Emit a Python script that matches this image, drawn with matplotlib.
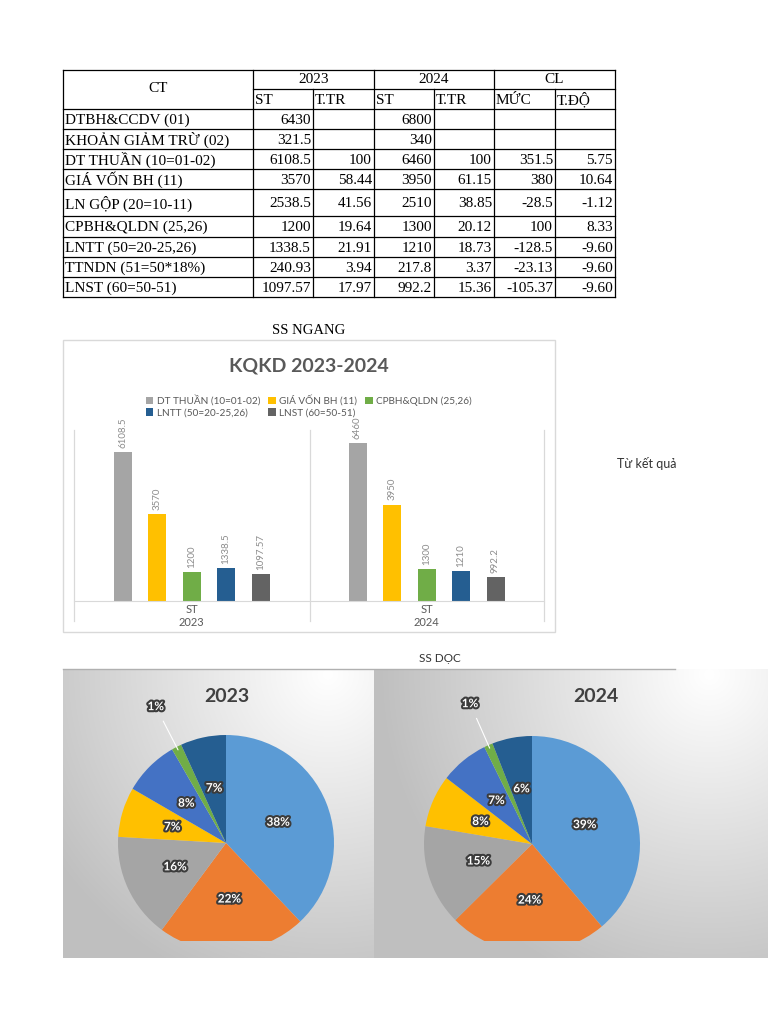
import numpy as np
import matplotlib.pyplot as plt
import matplotlib.patheffects as pe
from matplotlib.patches import Rectangle

# ---- data (bảng KQKD) ----
rows = ["DTBH&CCDV (01)", "KHOẢN GIẢM TRỪ (02)", "DT THUẦN (10=01-02)", "GIÁ VỐN BH (11)",
        "LN GỘP (20=10-11)", "CPBH&QLDN (25,26)", "LNTT (50=20-25,26)",
        "TTNDN (51=50*18%)", "LNST (60=50-51)"]
st_2023 = [6430, 321.5, 6108.5, 3570, 2538.5, 1200, 1338.5, 240.93, 1097.57]
ttr_2023 = [None, None, 100, 58.44, 41.56, 19.64, 21.91, 3.94, 17.97]
st_2024 = [6800, 340, 6460, 3950, 2510, 1300, 1210, 217.8, 992.2]
ttr_2024 = [None, None, 100, 61.15, 38.85, 20.12, 18.73, 3.37, 15.36]
cl_muc = [None, None, 351.5, 380, -28.5, 100, -128.5, -23.13, -105.37]
cl_tdo = [None, None, 5.75, 10.64, -1.12, 8.33, -9.60, -9.60, -9.60]

years = ["2023", "2024"]
bar_rows = [2, 3, 5, 6, 8]          # DT THUẦN, GIÁ VỐN, CPBH, LNTT, LNST
bar_colors = ["#A5A5A5", "#FFC000", "#70AD47", "#255E91", "#636363"]
pie_rows = [2, 3, 4, 5, 6, 7, 8]
pie_colors = ["#5B9BD5", "#ED7D31", "#A5A5A5", "#FFC000", "#4472C4", "#70AD47", "#255E91"]

W, H = 768, 1024
fig = plt.figure(figsize=(W / 100, H / 100), dpi=100)
serif = ["Liberation Serif", "DejaVu Serif"]
sans = ["Lato", "Noto Sans", "DejaVu Sans"]


def box(x0, y0, x1, y1):
    return [x0 / W, 1 - y1 / H, (x1 - x0) / W, (y1 - y0) / H]


page = fig.add_axes([0, 0, 1, 1])
page.set_xlim(0, W)
page.set_ylim(H, 0)
page.axis("off")

# ---- table ----
cols = [63, 253, 313, 374, 434, 494, 555, 615]
ys = [70, 89, 109, 129, 149, 169, 189, 216, 237, 257, 277, 297]
lc = dict(color="black", lw=0.9)
page.plot([cols[0], cols[-1]], [ys[0]] * 2, **lc)
page.plot([cols[1], cols[-1]], [ys[1]] * 2, **lc)
for y in ys[2:]:
    page.plot([cols[0], cols[-1]], [y] * 2, **lc)
for x in [cols[0], cols[1], cols[3], cols[5], cols[7]]:
    page.plot([x, x], [ys[0], ys[-1]], **lc)
for x in [cols[2], cols[4], cols[6]]:
    page.plot([x, x], [ys[1], ys[-1]], **lc)

tf = dict(family=serif, fontsize=11, color="black", va="center")
page.text((cols[0] + cols[1]) / 2, ys[1], "CT", ha="center", **tf)
for i, g in enumerate(["2023", "2024", "CL"]):
    page.text((cols[1 + 2 * i] + cols[3 + 2 * i]) / 2, (ys[0] + ys[1]) / 2, g, ha="center", **tf)
for j, s in enumerate(["ST", "T.TR", "ST", "T.TR", "MỨC", "T.ĐỘ"]):
    page.text(cols[1 + j] + 2, (ys[1] + ys[2]) / 2 + 1, s, ha="left", **tf)

table_cols = [st_2023, ttr_2023, st_2024, ttr_2024, cl_muc, cl_tdo]
for r, name in enumerate(rows):
    yc = (ys[2 + r] + ys[3 + r]) / 2 + 1
    page.text(cols[0] + 2, yc, name, ha="left", **tf)
    for j, col in enumerate(table_cols):
        v = col[r]
        if v is None:
            continue
        s = f"{v:.2f}" if col is cl_tdo else f"{v:g}"
        page.text(cols[2 + j] - 2, yc, s, ha="right", **tf)

page.text(309, 330, "SS NGANG", ha="center", va="center", family=serif, fontsize=10.5)

# ---- bar chart ----
page.add_patch(Rectangle((63, 340), 492, 292, fill=False, ec="#d9d9d9", lw=1))
for x in [74, 310, 544]:
    page.plot([x, x], [430, 621], color="#d9d9d9", lw=0.9)
fig.text(309 / W, 1 - 366 / H, "KQKD 2023-2024", ha="center", va="center",
         family=sans, fontsize=14, fontweight="bold", color="#595959")

axb = fig.add_axes(box(74, 430, 544, 601))
offsets = np.array([-69, -34.5, 0, 34.5, 69]) / 235
bar_w = 18 / 235
handles = []
for k, r in enumerate(bar_rows):
    vals = [st_2023[r], st_2024[r]]
    xs = np.arange(len(years)) + offsets[k]
    bars = axb.bar(xs, vals, width=bar_w, color=bar_colors[k], label=rows[r])
    handles.append(bars)
    for xb, v in zip(xs, vals):
        axb.annotate(f"{v:g}", (xb, v), xytext=(0, 3), textcoords="offset points",
                     rotation=90, ha="center", va="bottom", fontsize=7,
                     color="#8c8c8c", family=sans, annotation_clip=False)
axb.set_xlim(-0.5, 1.5)
axb.set_ylim(0, 7000)
axb.set_yticks([])
axb.set_xticks([0, 1])
axb.set_xticklabels([f"ST\n{y}" for y in years], fontsize=8, color="#595959",
                    family=sans, linespacing=1.2)
axb.tick_params(axis="x", length=0, pad=2)
for s in ["top", "left", "right"]:
    axb.spines[s].set_visible(False)
axb.spines["bottom"].set_color("#d9d9d9")
axb.patch.set_alpha(0)

order = [0, 3, 1, 4, 2]
fig.legend([handles[i] for i in order], [rows[bar_rows[i]] for i in order],
           ncol=3, loc="upper center", bbox_to_anchor=(309 / W, 1 - 386 / H),
           frameon=False, handlelength=0.75, handleheight=0.75,
           handletextpad=0.35, columnspacing=0.8, labelspacing=0.25,
           prop=dict(family=sans, size=7.2), labelcolor="#595959")

page.text(647, 464, "Từ kết quả", ha="center", va="center", family=sans,
          fontsize=9, color="#333333")
page.text(440, 658, "SS DỌC", ha="center", va="center", family=sans,
          fontsize=8.5, color="#333333")


# ---- pie panels ----
def gradient(w, h, cx, cy, rad):
    xx, yy = np.meshgrid(np.arange(w), np.arange(h))
    d = np.clip(np.hypot(xx - cx, yy - cy) / rad, 0, 1)
    v = 1 - 0.25 * d
    return np.dstack([v, v, v])


panels = [(63, 374, 669, 958), (374, 768, 669, 958)]
for (x0, x1, y0, y1) in panels:
    g = gradient(x1 - x0, y1 - y0, 0.85 * (x1 - x0), 5, 330)
    page.imshow(g, extent=(x0, x1, y1, y0), origin="upper", aspect="auto", zorder=0)
page.plot([63, 675], [669, 669], color="#b0b0b0", lw=1)
page.set_xlim(0, W)
page.set_ylim(H, 0)

centers = [(226, 843), (532, 844)]
title_x = [227, 596]
R = 108.0
series = [st_2023, st_2024]
for i, y in enumerate(years):
    cx, cy = centers[i]
    vals = [series[i][r] for r in pie_rows]
    axp = fig.add_axes(box(cx - 125, cy - 125, cx + 125, 941))
    wedges, _, autotexts = axp.pie(
        vals, colors=pie_colors, startangle=90, counterclock=False,
        autopct=lambda p: f"{p:.0f}%" if p >= 3 else "", pctdistance=0.52,
        wedgeprops=dict(linewidth=0),
        textprops=dict(color="white", fontsize=8.5, fontweight="bold", family=sans))
    for w in wedges:
        w.set_clip_on(True)
        w.set_clip_path(axp.patch)
    for t in autotexts:
        t.set_path_effects([pe.withStroke(linewidth=3, foreground="#3b3b3b")])
    total = sum(vals)
    for w, v in zip(wedges, vals):
        if v / total < 0.03:
            ang = np.deg2rad((w.theta1 + w.theta2) / 2)
            lx, ly = 1.42 * np.cos(ang), 1.42 * np.sin(ang)
            axp.annotate(f"{100 * v / total:.0f}%", xy=(0.97 * np.cos(ang), 0.97 * np.sin(ang)),
                         xytext=(lx, ly), ha="center", va="center", color="white",
                         fontsize=8.5, fontweight="bold", family=sans,
                         path_effects=[pe.withStroke(linewidth=3, foreground="#3b3b3b")],
                         arrowprops=dict(arrowstyle="-", color="white", lw=0.8,
                                         shrinkA=5, shrinkB=0),
                         annotation_clip=False)
    axp.set_aspect("auto")
    axp.set_xlim(-125 / R, 125 / R)
    axp.set_ylim(-(941 - cy) / R, 125 / R)
    axp.axis("off")
    fig.text(title_x[i] / W, 1 - 697 / H, y, ha="center", va="center", family=sans,
             fontsize=14, fontweight="bold", color="#404040")

fig.savefig("out.png", dpi=100)
